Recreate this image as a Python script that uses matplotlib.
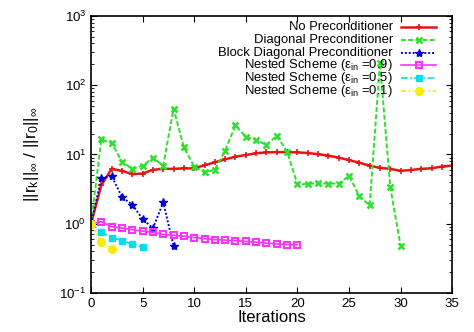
#!/usr/bin/env python3

import matplotlib
matplotlib.use("Agg")
import matplotlib.pyplot as plt
from matplotlib.lines import Line2D
from matplotlib.ticker import LogLocator, NullFormatter

plt.rcParams["font.family"] = ["Liberation Sans", "DejaVu Sans"]
plt.rcParams["mathtext.fontset"] = "custom"
plt.rcParams["mathtext.rm"] = "Liberation Sans"
plt.rcParams["mathtext.it"] = "Liberation Sans:italic"

# residual history
no_prec = [1.0, 3.6, 6.2, 5.8, 5.2, 5.3, 6.0, 6.2, 6.2, 6.3, 6.3, 7.0, 7.7, 8.5,
           9.3, 9.8, 10.4, 10.7, 10.8, 10.8, 10.7, 10.5, 10.1, 9.6, 9.0, 8.3,
           7.6, 6.9, 6.4, 6.2, 5.8, 5.96, 6.2, 6.3, 6.7, 6.9]
diag_prec = [1.0, 16.6, 14.5, 7.9, 6.2, 6.9, 8.9, 6.9, 46.0, 12.7, 6.7, 5.5,
             6.0, 11.4, 26.4, 17.9, 16.2, 13.7, 18.7, 11.0, 3.7, 3.75, 3.87,
             3.8, 3.8, 4.9, 2.5, 1.84, 208.0, 3.35, 0.48]
block_prec = [1.0, 4.5, 4.9, 2.43, 1.88, 1.17, 0.86, 2.03, 0.48]
nested_09 = [1.0, 1.07, 0.905, 0.866, 0.82, 0.78, 0.75, 0.70, 0.68, 0.66, 0.63,
             0.61, 0.59, 0.58, 0.57, 0.555, 0.54, 0.525, 0.51, 0.50, 0.497]
nested_05 = [1.0, 0.77, 0.63, 0.57, 0.51, 0.455]
nested_01 = [1.0, 0.54, 0.435]

labels = ["No Preconditioner",
          "Diagonal Preconditioner",
          "Block Diagonal Preconditioner",
          r"Nested Scheme ($\mathrm{\varepsilon_{in}}$ =0.9)",
          r"Nested Scheme ($\mathrm{\varepsilon_{in}}$ =0.5)",
          r"Nested Scheme ($\mathrm{\varepsilon_{in}}$ =0.1)"]

series = [no_prec, diag_prec, block_prec, nested_09, nested_05, nested_01]
styles = [
    dict(color="#e81414", ls="-", lw=1.8, marker="+", ms=5, mew=1.2),
    dict(color="#2ee02e", ls=(0, (2.5, 1.2)), lw=1.4, marker="x", ms=5,
         mew=1.8),
    dict(color="#0000d0", ls=(0, (1, 1)), lw=1.4, marker="*", ms=6, mew=1.0),
    dict(color="#ff33ff", ls="-", lw=1.2, marker="s", ms=4.5, mew=1.5,
         mfc="none"),
    dict(color="#00e0f0", ls=(0, (4, 1.5, 1, 1.5)), lw=1.2, marker="s", ms=4),
    dict(color="#f5ee00", ls=(0, (3, 1.5, 1, 1.5, 1, 1.5)), lw=1.2,
         marker="o", ms=5.5),
]

fig = plt.figure(figsize=(4.74, 3.32), dpi=100)
ax = fig.add_axes([0.192, 0.1175, 0.762, 0.8345])

for ys, st in zip(series, styles):
    ax.plot(range(len(ys)), ys, **st)

ax.set_yscale("log")
ax.set_xlim(0, 35)
ax.set_ylim(0.1, 1000)
ax.set_xticks(range(0, 36, 5))
ax.yaxis.set_minor_locator(LogLocator(base=10, subs=range(2, 10)))
ax.yaxis.set_minor_formatter(NullFormatter())
ax.tick_params(which="both", direction="in", top=True, right=True,
               labelsize=9.5)
ax.tick_params(which="major", length=4)
ax.tick_params(which="minor", length=2)
for s in ax.spines.values():
    s.set_linewidth(1.2)

ax.set_xlabel("Iterations", fontsize=12, labelpad=0)
ax.set_ylabel(r"$||\mathrm{r_k}||_\infty$ / $||\mathrm{r_0}||_\infty$",
              fontsize=12.5, labelpad=13)

# gnuplot-like key: right-aligned text, sample line on the right
y0, dy = 0.961, 0.0465
for i, (lab, st) in enumerate(zip(labels, styles)):
    y = y0 - i * dy
    ax.text(0.836, y, lab, transform=ax.transAxes, ha="right", va="center",
            fontsize=9.4)
    ax.add_line(Line2D([0.859, 0.956], [y, y], transform=ax.transAxes,
                       **{k: v for k, v in st.items() if k != "marker"}))
    ax.add_line(Line2D([0.9075], [y], transform=ax.transAxes, **st))

fig.savefig("out.png", dpi=100)
